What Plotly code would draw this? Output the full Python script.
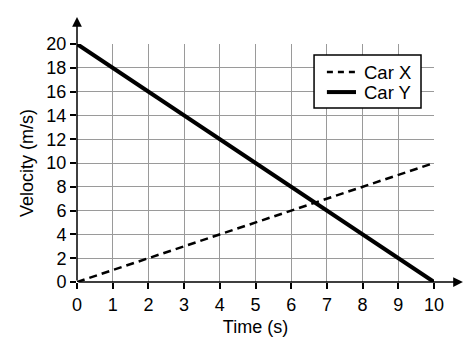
import plotly.graph_objects as go

# Velocity-time data for the two cars
time_s = [0, 1, 2, 3, 4, 5, 6, 7, 8, 9, 10]
car_x_velocity = [0, 1, 2, 3, 4, 5, 6, 7, 8, 9, 10]
car_y_velocity = [20, 18, 16, 14, 12, 10, 8, 6, 4, 2, 0]
series_names = ["Car X", "Car Y"]

x_ticks = list(range(0, 11))
y_ticks = list(range(0, 21, 2))

FONT = "Liberation Sans, Arial, Helvetica, sans-serif"
styles = [
    dict(color="black", width=2.5, dash="8px,5px"),
    dict(color="black", width=4, dash="solid"),
]

fig = go.Figure()
for name, values, style in zip(series_names, [car_x_velocity, car_y_velocity], styles):
    fig.add_trace(go.Scatter(x=time_s, y=values, mode="lines", name=name,
                             line=style, showlegend=False))

axis_common = dict(
    showgrid=True, gridcolor="#9a9a9a", gridwidth=1,
    zeroline=False, showline=False, automargin=False,
    ticks="outside", ticklen=6, tickwidth=1.5, tickcolor="black",
    tickfont=dict(family=FONT, size=18, color="black"),
    tickmode="array",
)

fig.update_xaxes(
    range=[0, 10], tickvals=x_ticks,
    title=dict(text="Time (s)", font=dict(family=FONT, size=18, color="black"), standoff=6),
    **axis_common,
)
fig.update_yaxes(
    range=[0, 20], tickvals=y_ticks,
    title=dict(text="Velocity (m/s)", font=dict(family=FONT, size=18, color="black"), standoff=8),
    **axis_common,
)

# Axis lines with arrowheads, extending past the plotting area
fig.add_annotation(x=1.081, y=0, xref="paper", yref="paper", text="",
                   showarrow=True, ax=-386, ay=0, arrowhead=2, arrowsize=1.3,
                   arrowwidth=1.5, arrowcolor="black")
fig.add_annotation(x=0, y=1.113, xref="paper", yref="paper", text="",
                   showarrow=True, ax=0, ay=265, arrowhead=2, arrowsize=1.3,
                   arrowwidth=1.5, arrowcolor="black")

# Compact boxed legend
fig.add_shape(type="rect", xref="paper", yref="paper",
              x0=0.664, x1=0.9636, y0=0.731, y1=0.954,
              fillcolor="white", line=dict(color="black", width=1.5), layer="above")
legend_rows = [0.882, 0.798]
legend_styles = [
    dict(color="black", width=2.5, dash="6px,5px"),
    dict(color="black", width=4, dash="solid"),
]
for name, row_y, style in zip(series_names, legend_rows, legend_styles):
    fig.add_shape(type="line", xref="paper", yref="paper",
                  x0=0.700, x1=0.7815, y0=row_y, y1=row_y, line=style, layer="above")
    fig.add_annotation(x=0.798, y=row_y, xref="paper", yref="paper", text=name,
                       showarrow=False, xanchor="left", yanchor="middle",
                       font=dict(family=FONT, size=18.5, color="black"))

fig.update_layout(
    width=474, height=338,
    margin=dict(l=77, r=40, t=44, b=56),
    paper_bgcolor="white", plot_bgcolor="white",
    font=dict(family=FONT, size=18, color="black"),
    showlegend=False,
)

fig.write_html("out.html")
